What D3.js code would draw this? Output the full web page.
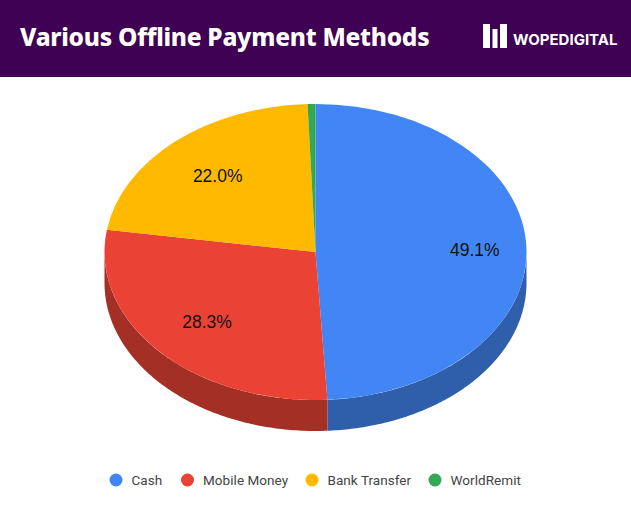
<!DOCTYPE html>
<html>
<head>
<meta charset="utf-8">
<script src="https://cdn.jsdelivr.net/npm/d3@7"></script>
<style>
  html, body { margin: 0; padding: 0; background: #fff; }
  svg { display: block; }
</style>
</head>
<body>
<svg id="chart"></svg>
<script>
const categories = ['Cash', 'Mobile Money', 'Bank Transfer', 'WorldRemit'];
const shares = [49.1, 28.3, 22.0, 0.6];
const shareLabels = ['49.1%', '28.3%', '22.0%', ''];
const colors = ['#4285f4', '#ea4335', '#ffba00', '#34a853'];
const wallColors = ['#2f5fab', '#a42f25', '#b38300', '#247638'];

const width = 631, height = 520;
const cx = 315.5, cy = 252, rx = 211, ry = 148, depth = 31;

const svg = d3.select('#chart').attr('width', width).attr('height', height);

// Header band
svg.append('rect').attr('width', width).attr('height', 77).attr('fill', '#3f0154');
svg.append('text')
    .attr('x', 20).attr('y', 46)
    .attr('font-family', '"Noto Sans", sans-serif')
    .attr('font-weight', 800)
    .attr('font-size', 24.5)
    .attr('letter-spacing', -0.27)
    .attr('fill', '#fff')
    .text('Various Offline Payment Methods');

// Logo
const logo = svg.append('g').attr('fill', '#fff');
logo.append('rect').attr('x', 483).attr('y', 24).attr('width', 7).attr('height', 24);
logo.append('rect').attr('x', 492.5).attr('y', 29).attr('width', 5).attr('height', 19);
logo.append('rect').attr('x', 500).attr('y', 24).attr('width', 7).attr('height', 24);
logo.append('text')
    .attr('x', 513).attr('y', 45)
    .attr('font-family', 'Inter, sans-serif')
    .attr('font-weight', 700)
    .attr('font-size', 15)
    .text('WOPEDIGITAL');

// Unit circle mapped to the tilted ellipse
const xScale = d3.scaleLinear().domain([-1, 1]).range([cx - rx, cx + rx]);
const yScale = d3.scaleLinear().domain([-1, 1]).range([cy + ry, cy - ry]);

const pie = d3.pie().sort(null);
const slices = pie(shares);

const arc = d3.arc().innerRadius(0).outerRadius(rx);

// Side wall, only the front half of the rim shows (angles PI/2 to 3PI/2)
const wall = d3.area()
    .x(a => xScale(Math.sin(a)))
    .y0(a => yScale(Math.cos(a)))
    .y1(a => yScale(Math.cos(a)) + depth);

const walls = svg.append('g');
slices.forEach((s, i) => {
  const a0 = Math.max(s.startAngle, Math.PI / 2);
  const a1 = Math.min(s.endAngle, Math.PI * 3 / 2);
  if (a1 <= a0) return;
  walls.append('path')
      .attr('d', wall(d3.range(0, 121).map(k => a0 + (a1 - a0) * k / 120)))
      .attr('fill', wallColors[i]);
});

// Top face
svg.append('g')
    .attr('transform', `translate(${cx},${cy}) scale(1,${ry / rx})`)
    .selectAll('path')
    .data(slices)
  .join('path')
    .attr('d', arc)
    .attr('fill', (d, i) => colors[i]);

// Slice labels
const labelRadius = [0.755, 0.695, 0.696, 0.7];
svg.append('g')
    .selectAll('text')
    .data(slices)
  .join('text')
    .attr('x', (d, i) => xScale(labelRadius[i] * Math.sin((d.startAngle + d.endAngle) / 2)))
    .attr('y', (d, i) => yScale(labelRadius[i] * Math.cos((d.startAngle + d.endAngle) / 2)) + 1)
    .attr('dy', '.35em')
    .attr('text-anchor', 'middle')
    .attr('font-family', '"Liberation Sans", Arial, sans-serif')
    .attr('font-size', 17.5)
    .attr('fill', '#111')
    .text((d, i) => shareLabels[i]);

// Legend
const legendSwatchX = [116, 187.5, 312, 435];
const legend = svg.append('g')
    .selectAll('g')
    .data(categories)
  .join('g')
    .attr('transform', (d, i) => `translate(${legendSwatchX[i]},480)`);
legend.append('circle')
    .attr('r', 6.5)
    .attr('fill', (d, i) => colors[i]);
legend.append('text')
    .attr('x', 15.5)
    .attr('dy', '.35em')
    .attr('font-family', 'Roboto, sans-serif')
    .attr('font-size', 13.5)
    .attr('letter-spacing', 0.05)
    .attr('fill', '#444')
    .text(d => d);
</script>
</body>
</html>
